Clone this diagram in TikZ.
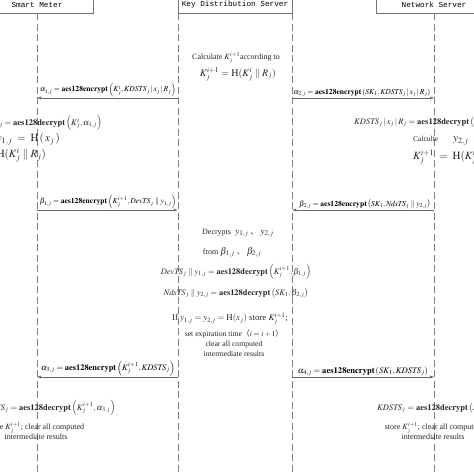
\documentclass[tikz,border=0pt]{standalone}
\usepackage{mathptmx}
\usepackage{fontspec}
\setmainfont{Liberation Serif}
\setmonofont{Liberation Mono}
\newfontfamily\cjk{Noto Sans CJK SC}
\usetikzlibrary{arrows.meta}
\newcommand{\enc}{\mathbf{aes128encrypt}}
\newcommand{\dec}{\mathbf{aes128decrypt}}
\newcommand{\fs}[1]{\fontsize{#1}{10}\selectfont}

\begin{document}
\begin{tikzpicture}[x=1pt,y=-1pt,
    hdr/.style={draw=black!55,minimum height=16pt,inner sep=0pt,font=\ttfamily\fs{7.7}},
    life/.style={draw=black!50,dash pattern=on 7pt off 3.5pt},
    msg/.style={draw=black!60,-{Latex[length=4pt,width=3pt]}},
    lbl/.style={anchor=south,inner sep=1pt,font=\fs{7.6}},
    txt/.style={inner sep=0pt,text=black!85,font=\fs{8}}]
  \useasboundingbox (0,0) rectangle (474,474);
  \clip (0,0) rectangle (474,474);
  \coordinate (bot) at (0,474);

  % parties
  \node[hdr,minimum width=112pt] (sm) at (37,5) {Smart Meter};
  \node[hdr,minimum width=114pt] (kds) at (235,5) {Key Distribution Server};
  \node[hdr,minimum width=116pt] (ns) at (434,5) {Network Server};

  \draw[life] (sm.south) -- (sm.south |- bot);
  \draw[life] (kds.south west) -- (kds.south west |- bot);
  \draw[life] (kds.south east) -- (kds.south east |- bot);
  \draw[life] (ns.south) -- (ns.south |- bot);

  % new key
  \node[txt] (calc) at (236,58) {Calculate $K_j^{i+1}$according to};
  \node[txt,font=\fs{10}] (knew) at (238,74) {$K_j^{i+1}=\mathrm{H}(K_j^i\parallel R_j)$};

  % alpha 1 and alpha 2
  \node[lbl] (a1) at (108,98) {$\alpha_{1,j}=\enc\left(K_j^i,\mathit{KDSTS}_j\,|\,x_j\,|\,R_j\right)$};
  \draw[msg] (kds.south west |- a1.south) -- (sm.south |- a1.south);
  \node[lbl] (a2) at (362,98) {$\alpha_{2,j}=\enc\left(SK_1,\mathit{KDSTS}_j\,|\,x_j\,|\,R_j\right)$};
  \draw[msg] (kds.south east |- a2.south) -- (ns.south |- a2.south);

  \node[txt,anchor=west,font=\fs{8.5}] (d1) at (-50,123) {$\mathit{KDSTS}_j\,|\,x_j\,|\,R_j=\dec\left(K_j^i,\alpha_{1,j}\right)$};
  \node[txt,anchor=west,font=\fs{8.5}] (d2) at (354,122) {$\mathit{KDSTS}_j\,|\,x_j\,|\,R_j=\dec\left(SK_1,\alpha_{2,j}\right)$};

  \node[txt,anchor=east,font=\fs{7.5}] (y1) at (60,139) {Calculte\quad\quad{\fs{11}$y_{1,j}\;=\;\mathrm{H}\,(\,x_j\,)$}};
  \node[txt,anchor=east,font=\fs{11}] (k1) at (46,155) {$K_j^{i+1}\;=\;\mathrm{H}(K_j^i\parallel R_j)$};
  \node[txt,anchor=west,font=\fs{7.5}] (y2) at (413,139) {Calculte\quad\quad{\fs{11}$y_{2,j}\;=\;\mathrm{H}\,(\,x_j\,)$}};
  \node[txt,anchor=west,font=\fs{11}] (k2) at (413,157) {$K_j^{i+1}\;=\;\mathrm{H}(K_j^i\parallel R_j)$};

  % beta 1 and beta 2
  \node[lbl] (b1) at (108,210) {$\beta_{1,j}=\enc\left(K_j^{i+1},\mathit{DevTS}_j\parallel y_{1,j}\right)$};
  \draw[msg] (sm.south |- b1.south) -- (kds.south west |- b1.south);
  \node[lbl] (b2) at (365,210) {$\beta_{2,j}=\enc\left(SK_1,\mathit{NdsTS}_j\parallel y_{2,j}\right)$};
  \draw[msg] (ns.south |- b2.south) -- (kds.south east |- b2.south);

  % check at the server
  \node[txt] (dc1) at (238,233) {Decrypts\ \ {\fs{9.5}$y_{1,j}$} {\cjk 、} {\fs{9.5}$y_{2,j}$}};
  \node[txt] (dc2) at (232,252) {from {\fs{9.5}$\beta_{1,j}$} {\cjk 、} {\fs{9.5}$\beta_{2,j}$}};
  \node[txt,font=\fs{8.4}] (dv) at (236,272) {$\mathit{DevTS}_j\parallel y_{1,j}=\dec\left(K_j^{i+1},\beta_{1,j}\right)$};
  \node[txt,font=\fs{8.4}] (nd) at (236,293) {$\mathit{NdsTS}_j\parallel y_{2,j}=\dec\left(SK_1,\beta_{2,j}\right)$};
  \node[txt,font=\fs{8.8}] (chk) at (230,319) {If $y_{1,j}=y_{2,j}=\mathrm{H}(x_j)$ store $K_j^{i+1}$;};
  \node[txt,align=center,font=\fs{7.7}] (clr) at (234,343) {set expiration time{\cjk （}$i=i+1${\cjk ）}\\clear all computed\\intermediate results};

  % alpha 3 and alpha 4
  \node[lbl,font=\fs{8.4}] (a3) at (108,377) {$\alpha_{3,j}=\enc\left(K_j^{i+1},\mathit{KDSTS}_j\right)$};
  \draw[msg] (kds.south west |- a3.south) -- (sm.south |- a3.south);
  \node[lbl,font=\fs{8.6}] (a4) at (363,377) {$\alpha_{4,j}=\enc\left(SK_1,\mathit{KDSTS}_j\right)$};
  \draw[msg] (kds.south east |- a4.south) -- (ns.south |- a4.south);

  \node[txt,anchor=west,font=\fs{8.5}] (e1) at (-20,408) {$\mathit{KDSTS}_j=\dec\left(K_j^{i+1},\alpha_{3,j}\right)$};
  \node[txt,anchor=west,font=\fs{8.5}] (e2) at (377,408) {$\mathit{KDSTS}_j=\dec\left(SK_1,\alpha_{4,j}\right)$};
  \node[txt,align=center] (s1) at (36,431) {store $K_j^{i+1}$; clear all computed\\intermediate results};
  \node[txt,align=center] (s2) at (433,431) {store $K_j^{i+1}$; clear all computed\\intermediate results};
\end{tikzpicture}
\end{document}
